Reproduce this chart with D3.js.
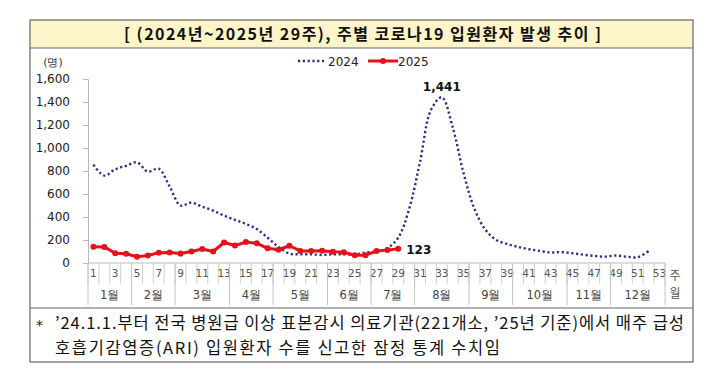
<!DOCTYPE html>
<html>
<head>
<meta charset="utf-8">
<script src="https://cdn.jsdelivr.net/npm/d3@7"></script>
<style>
  body { margin: 0; background: #fff; }
  svg { display: block; }
  text { font-family: "DejaVu Sans", Verdana, sans-serif; }
  .kr { font-family: "Noto Sans CJK KR", "Noto Sans", sans-serif; }
</style>
</head>
<body>
<div id="chart"></div>
<script>
// Data
const weeks = d3.range(1, 54);
const weekLabels = weeks.filter(w => w % 2 === 1);
const months = ['1월', '2월', '3월', '4월', '5월', '6월', '7월', '8월', '9월', '10월', '11월', '12월'];
const monthWeekCounts = [4, 4, 5, 4, 5, 4, 4, 5, 4, 5, 4, 5];
const cases2024 = [855, 760, 815, 845, 875, 795, 820, 665, 500, 525, 490, 455, 412, 375, 340, 295, 220, 140,
  82, 76, 76, 70, 76, 76, 74, 92, 100, 130, 220, 470, 880, 1330, 1441, 1180, 780, 470, 290, 200, 165, 140,
  120, 105, 92, 95, 85, 72, 62, 55, 65, 55, 50, 105];
const cases2025 = [142, 140, 85, 80, 55, 65, 90, 92, 82, 100, 122, 100, 178, 152, 182, 172, 128, 115, 150,
  105, 104, 106, 98, 93, 68, 68, 104, 112, 123];
const yTicks = [0, 200, 400, 600, 800, 1000, 1200, 1400, 1600];
const seriesNames = ['2024', '2025'];
const titleText = '[ (2024년~2025년 29주), 주별 코로나19 입원환자 발생 추이 ]';
const noteLines = [
  '’24.1.1.부터 전국 병원급 이상 표본감시 의료기관(221개소, ’25년 기준)에서 매주 급성',
  '호흡기감염증(ARI) 입원환자 수를 신고한 잠정 통계 수치임'
];

// Layout
const W = 720, H = 374;
const box = {left: 30, right: 693, top: 20, titleBottom: 48, noteTop: 308, bottom: 362};
const plot = {left: 88, right: 665, top: 79, bottom: 263};
const navy = '#2e2f80', red = '#e5121b', axisGray = '#b8b8b8';

const svg = d3.select('#chart').append('svg')
  .attr('width', W)
  .attr('height', H);

// Title band
svg.append('rect')
  .attr('x', box.left).attr('y', box.top)
  .attr('width', box.right - box.left).attr('height', box.titleBottom - box.top)
  .attr('fill', '#fdf4c9');
svg.append('text')
  .attr('class', 'kr')
  .attr('x', 124).attr('y', 40)
  .attr('textLength', 477).attr('lengthAdjust', 'spacing')
  .attr('font-size', 16).attr('font-weight', 700).attr('fill', '#111')
  .text(titleText);

// Outer frame and dividers
svg.append('rect')
  .attr('x', box.left).attr('y', box.top)
  .attr('width', box.right - box.left).attr('height', box.bottom - box.top)
  .attr('fill', 'none').attr('stroke', '#666').attr('stroke-width', 1.2);
[box.titleBottom, box.noteTop].forEach(yy => {
  svg.append('line')
    .attr('x1', box.left).attr('x2', box.right)
    .attr('y1', yy).attr('y2', yy)
    .attr('stroke', '#666').attr('stroke-width', 1.2);
});

// Scales
const x = d3.scaleBand().domain(weeks).range([plot.left, plot.right]);
const cx = w => x(w) + x.bandwidth() / 2;
const y = d3.scaleLinear().domain([0, 1600]).range([plot.bottom, plot.top]);

// Y axis
const yAxis = d3.axisLeft(y).tickValues(yTicks).tickFormat(d3.format(',')).tickSize(5).tickPadding(13);
const yg = svg.append('g').attr('transform', 'translate(' + plot.left + ',0)').call(yAxis);
yg.select('.domain').attr('stroke', axisGray);
yg.selectAll('.tick line').attr('stroke', axisGray);
yg.selectAll('.tick text').attr('font-size', 12).attr('fill', '#222')
  .attr('font-family', '"DejaVu Sans", Verdana, sans-serif');
svg.append('text')
  .attr('x', 53).attr('y', 66).attr('text-anchor', 'middle')
  .attr('font-size', 11).attr('fill', '#333')
  .text('(명)');

// X axis: week row + month row
const xg = svg.append('g');
xg.append('line')
  .attr('x1', plot.left).attr('x2', plot.right)
  .attr('y1', plot.bottom).attr('y2', plot.bottom)
  .attr('stroke', axisGray);
xg.selectAll('.wk-tick')
  .data(weeks.concat([54]))
  .enter().append('line')
  .attr('class', 'wk-tick')
  .attr('x1', w => w === 54 ? plot.right : x(w))
  .attr('x2', w => w === 54 ? plot.right : x(w))
  .attr('y1', plot.bottom).attr('y2', plot.bottom + 21)
  .attr('stroke', '#cfcfcf');
xg.selectAll('.wk-label')
  .data(weekLabels)
  .enter().append('text')
  .attr('class', 'wk-label')
  .attr('x', cx).attr('y', plot.bottom + 14)
  .attr('text-anchor', 'middle')
  .attr('font-size', 10.5).attr('fill', '#555')
  .text(d => d);

// month spans
let start = 1;
const monthSpans = months.map((m, i) => {
  const s = {name: m, first: start, last: start + monthWeekCounts[i] - 1};
  start += monthWeekCounts[i];
  return s;
});
const monthEdges = [plot.left].concat(monthSpans.map(s => x(s.last) + x.bandwidth()));
xg.selectAll('.mo-line')
  .data(monthEdges)
  .enter().append('line')
  .attr('class', 'mo-line')
  .attr('x1', d => d).attr('x2', d => d)
  .attr('y1', plot.bottom).attr('y2', plot.bottom + 42)
  .attr('stroke', '#c4c4c4');
xg.selectAll('.mo-label')
  .data(monthSpans)
  .enter().append('text')
  .attr('class', 'mo-label')
  .attr('x', s => (x(s.first) + x(s.last) + x.bandwidth()) / 2)
  .attr('y', plot.bottom + 36)
  .attr('text-anchor', 'middle')
  .attr('font-size', 11.5).attr('fill', '#444')
  .attr('font-family', '"DejaVu Sans", "Noto Sans CJK KR", sans-serif')
  .text(s => s.name);
svg.append('text').attr('class', 'kr')
  .attr('x', 675).attr('y', 280).attr('text-anchor', 'middle')
  .attr('font-size', 12).attr('fill', '#555').text('주');
svg.append('text').attr('class', 'kr')
  .attr('x', 675).attr('y', 298).attr('text-anchor', 'middle')
  .attr('font-size', 12).attr('fill', '#555').text('월');

// Lines
const line2024 = d3.line()
  .x((d, i) => cx(weeks[i]))
  .y(d => y(d))
  .curve(d3.curveCatmullRom.alpha(0.5));
const line2025 = d3.line()
  .x((d, i) => cx(weeks[i]))
  .y(d => y(d));

svg.append('path')
  .datum(cases2024)
  .attr('fill', 'none')
  .attr('stroke', navy)
  .attr('stroke-width', 2.4)
  .attr('stroke-dasharray', '2.2,2.6')
  .attr('d', line2024);

svg.append('path')
  .datum(cases2025)
  .attr('fill', 'none')
  .attr('stroke', red)
  .attr('stroke-width', 3)
  .attr('stroke-linejoin', 'round')
  .attr('d', line2025);
svg.selectAll('.pt2025')
  .data(cases2025)
  .enter().append('circle')
  .attr('class', 'pt2025')
  .attr('cx', (d, i) => cx(weeks[i]))
  .attr('cy', d => y(d))
  .attr('r', 3)
  .attr('fill', red);

// Value labels
const peak = d3.max(cases2024);
const peakWeek = weeks[cases2024.indexOf(peak)];
svg.append('text')
  .attr('x', cx(peakWeek)).attr('y', y(peak) - 6)
  .attr('text-anchor', 'middle')
  .attr('font-size', 12).attr('font-weight', 700).attr('fill', '#111')
  .text(d3.format(',')(peak));
const lastIdx = cases2025.length - 1;
svg.append('text')
  .attr('x', cx(weeks[lastIdx]) + 8).attr('y', y(cases2025[lastIdx]) + 5)
  .attr('font-size', 12).attr('font-weight', 700).attr('fill', '#111')
  .text(cases2025[lastIdx]);

// Legend
const legend = svg.append('g').attr('transform', 'translate(298,61)');
legend.append('line')
  .attr('x1', 0).attr('x2', 26).attr('y1', 0).attr('y2', 0)
  .attr('stroke', navy).attr('stroke-width', 2.4).attr('stroke-dasharray', '2.2,2.6');
legend.append('text')
  .attr('x', 30).attr('y', 4.5)
  .attr('font-size', 12).attr('fill', '#222')
  .text(seriesNames[0]);
legend.append('line')
  .attr('x1', 70).attr('x2', 100).attr('y1', 0).attr('y2', 0)
  .attr('stroke', red).attr('stroke-width', 3);
legend.append('circle')
  .attr('cx', 85).attr('cy', 0).attr('r', 3).attr('fill', red);
legend.append('text')
  .attr('x', 100).attr('y', 4.5)
  .attr('font-size', 12).attr('fill', '#222')
  .text(seriesNames[1]);

// Footnote
svg.append('text')
  .attr('x', 36).attr('y', 330)
  .attr('font-size', 14).attr('fill', '#222')
  .text('*');
noteLines.forEach((t, i) => {
  svg.append('text')
    .attr('class', 'kr')
    .attr('x', 55).attr('y', 329 + i * 25)
    .attr('textLength', i === 0 ? 629 : 445).attr('lengthAdjust', 'spacing')
    .attr('font-size', 16.5).attr('fill', '#111')
    .text(t);
});
</script>
</body>
</html>
